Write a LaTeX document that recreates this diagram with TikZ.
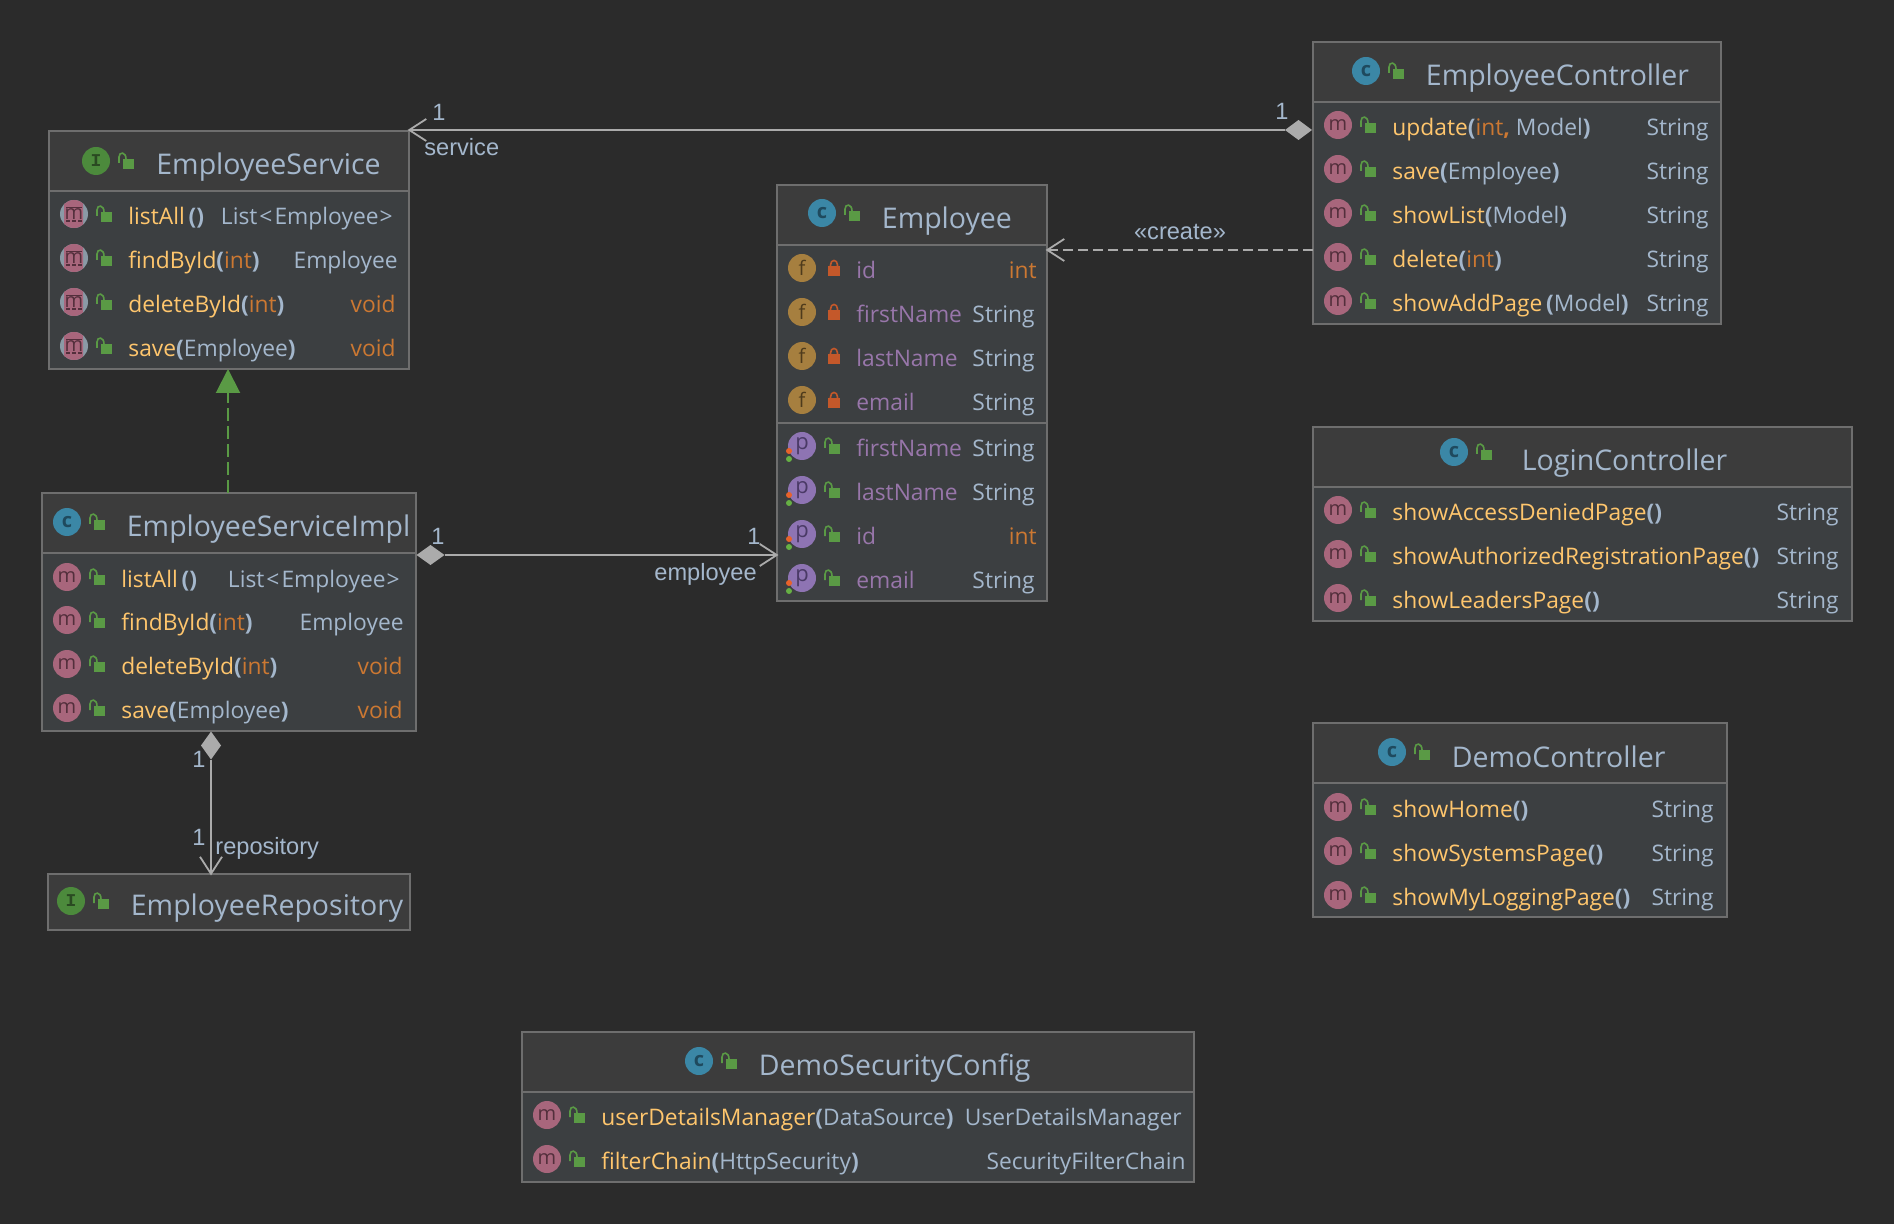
\documentclass[tikz,border=0pt]{standalone}
\usepackage{fontspec}
\setmainfont{Open Sans}
\newfontfamily\lblfont{Liberation Sans}
\newfontfamily\monoI{Liberation Mono}
\usetikzlibrary{shapes.geometric,arrows.meta}
\definecolor{bg}{HTML}{2B2B2B}
\definecolor{hdr}{HTML}{3C3C3C}
\definecolor{body}{HTML}{3C3F41}
\definecolor{edge}{HTML}{6E6E6E}
\definecolor{wire}{HTML}{ABABAB}
\definecolor{ttl}{HTML}{A4B7CC}
\definecolor{meth}{HTML}{FFC66D}
\definecolor{kwd}{HTML}{CC7832}
\definecolor{fld}{HTML}{9876AA}
\definecolor{icm}{HTML}{A8667C}
\definecolor{icmd}{HTML}{532F3C}
\definecolor{icc}{HTML}{3B87A6}
\definecolor{iccd}{HTML}{1F4A5E}
\definecolor{ici}{HTML}{4C8A3C}
\definecolor{icid}{HTML}{2A4A22}
\definecolor{icf}{HTML}{A67F3F}
\definecolor{icfd}{HTML}{4E3B1C}
\definecolor{icp}{HTML}{8E74B3}
\definecolor{icpd}{HTML}{4A3A66}
\definecolor{lkg}{HTML}{5A9A45}
\definecolor{lkr}{HTML}{C4582A}
\definecolor{dotr}{HTML}{E8622A}
\definecolor{dotg}{HTML}{66B044}
\definecolor{grey}{HTML}{8A9AA6}
\newcount\nid
\tikzset{
  x=0.5pt,y=-0.5pt,
  boxnode/.style={rectangle,draw=edge,line width=0.9pt,inner sep=0pt,outer sep=0pt,fill=body},
  icon/.style={circle,minimum size=14pt,inner sep=0pt,outer sep=0pt},
  ttltext/.style={anchor=base west,inner sep=0pt,text=ttl,font=\fontsize{14.25}{14.25}\selectfont},
  memL/.style={anchor=base west,inner sep=0pt,font=\fontsize{11.4}{11.4}\selectfont},
  memR/.style={anchor=base east,inner sep=0pt,font=\fontsize{11.4}{11.4}\selectfont},
  lbl/.style={anchor=base west,inner sep=0pt,text=ttl,font=\lblfont\fontsize{11.8}{11.8}\selectfont},
  lblc/.style={anchor=base,inner sep=0pt,text=ttl,font=\lblfont\fontsize{11.8}{11.8}\selectfont},
  assoc/.style={draw=wire,line width=1.2pt,shorten >=-0.7pt,-{Straight Barb[length=8.5pt,width=11pt,line width=0.9pt]}},
  dep/.style={draw=wire,line width=1pt,shorten >=-0.7pt,dash pattern=on 5pt off 2.5pt,-{Straight Barb[length=8.5pt,width=11pt,line width=0.9pt]}},
  impl/.style={draw=lkg,line width=1pt,dash pattern=on 6.5pt off 2.5pt,-{Triangle[length=12pt,width=12pt,fill=lkg]}},
  dmd/.style={diamond,fill=wire,inner sep=0pt,outer sep=0pt},
}
\newcommand\N[4][]{\global\advance\nid by 1 \node[#1] (n\the\nid) at (#2,#3) {#4};}
% box: name x0 y0 x1 y1 ydiv
\newcommand\umlbox[6]{%
  \node[boxnode,minimum width={(#4-#2)*0.5pt},minimum height={(#5-#3)*0.5pt}] (#1) at ({(#2+#4)/2},{(#3+#5)/2}) {};
  \fill[hdr] (#1.north west) rectangle (#4,#6);
  \draw[edge,line width=0.9pt] (#2,#6) -- (#4,#6);
  \draw[edge,line width=0.9pt] (#1.south west) rectangle (#1.north east);
}
\newcommand\ulock[2]{%
  \fill[lkg] (#1+26.5,#2-2) rectangle (#1+38,#2+8);
  \draw[lkg,line width=0.8pt] (#1+23,#2+2) -- (#1+23,#2-4) .. controls (#1+23,#2-9.5) and (#1+30,#2-9.5) .. (#1+30,#2-2);
}
\newcommand\clock[2]{%
  \fill[lkr] (#1+26,#2-2) rectangle (#1+38,#2+8);
  \draw[lkr,line width=0.8pt] (#1+28.5,#2-1) -- (#1+28.5,#2-3) .. controls (#1+28.5,#2-9) and (#1+35.5,#2-9) .. (#1+35.5,#2-3) -- (#1+35.5,#2-1);
}
\newcommand\micon[2]{\N[icon,fill=icm,text=icmd,font=\fontsize{10}{10}\selectfont]{#1}{#2}{m}}
\newcommand\aicon[2]{%
  \fill[grey] (#1,#2) circle[radius=14];
  \begin{scope}
    \clip (#1-10,#2-15) rectangle (#1+9,#2+15);
    \fill[icm] (#1,#2) circle[radius=14];
  \end{scope}
  \N[icon,text=icmd,font=\fontsize{10}{10}\selectfont]{#1}{#2}{m}
  \draw[icmd,line width=0.7pt] (#1-8,#2-6.5) -- (#1+8,#2-6.5);
  \draw[icmd,line width=0.7pt] (#1-8,#2+7) -- (#1-4,#2+7) (#1-2,#2+7) -- (#1+2,#2+7) (#1+4,#2+7) -- (#1+8,#2+7);
}
\newcommand\cicon[2]{\N[icon,fill=icc,text=iccd,font=\bfseries\fontsize{10}{10}\selectfont]{#1}{#2}{c}\ulock{#1}{#2}}
\newcommand\iicon[2]{\N[icon,fill=ici,text=icid,font=\monoI\bfseries\fontsize{9}{9}\selectfont]{#1}{#2}{I}\ulock{#1}{#2}}
\newcommand\Title[3]{\N[ttltext]{#1}{#2+1.5}{#3}}
\newcommand\cm{\color{meth}}
\newcommand\ct{\color{ttl}}
\newcommand\ck{\color{kwd}}
\newcommand\po{\textbf{\ct(}}
\newcommand\pc{\textbf{\ct)}}
\newcommand\unit{\textbf{\ct()}}
\newcommand\listemp{\ct List\kern1pt<\kern1pt Employee\kern0.5pt>}
% Mrow iconx y textx rightx method type
\newcommand\Mrow[6]{\micon{#1}{#2}\ulock{#1}{#2}\N[memL]{#3-1}{#2+10.5}{#5}\N[memR]{#4+1}{#2+10.5}{#6}}
\newcommand\Arow[6]{\aicon{#1}{#2}\ulock{#1}{#2}\N[memL]{#3-1}{#2+10.5}{#5}\N[memR]{#4+1}{#2+10.5}{#6}}
\newcommand\Frow[4]{\N[icon,fill=icf,text=icfd,font=\fontsize{10}{10}\selectfont]{802}{#1}{f}\clock{802}{#1}\N[memL,text=fld]{856}{#1+10.5}{#2}\N[memR]{#3+1}{#1+10.5}{#4}}
\newcommand\Prow[4]{\N[icon,fill=icp,text=icpd,font=\fontsize{11}{11}\selectfont]{802}{#1}{p}\fill[dotr] (789,#1+5) circle[radius=3];\fill[dotg] (789,#1+13) circle[radius=3];\ulock{802}{#1}\N[memL,text=fld]{856}{#1+10.5}{#2}\N[memR]{#3+1}{#1+10.5}{#4}}
\begin{document}
\begin{tikzpicture}
\useasboundingbox (0,0) rectangle (1894,1224);
\fill[bg] (0,0) rectangle (1894,1224);
% EmployeeService
\umlbox{svc}{49}{131}{409}{369}{191}
\iicon{96}{161}\Title{156}{173}{EmployeeService}
\Arow{74}{214}{129}{392}{\cm listAll\,\unit}{\listemp}
\Arow{74}{258}{129}{397}{\cm findById\po\ck int\pc}{\ct Employee}
\Arow{74}{302}{129}{395}{\cm deleteById\po\ck int\pc}{\ck void}
\Arow{74}{346}{129}{395}{\cm save\po\ct Employee\pc}{\ck void}
% EmployeeServiceImpl
\umlbox{sim}{42}{493}{416}{731}{553}
\cicon{67}{522}\Title{126.5}{535}{EmployeeServiceImpl}
\Mrow{67}{577}{122}{399}{\cm listAll\,\unit}{\listemp}
\Mrow{67}{620}{122}{403}{\cm findById\po\ck int\pc}{\ct Employee}
\Mrow{67}{664}{122}{402}{\cm deleteById\po\ck int\pc}{\ck void}
\Mrow{67}{708}{122}{402}{\cm save\po\ct Employee\pc}{\ck void}
% EmployeeRepository
\node[boxnode,fill=hdr,minimum width={362*0.5pt},minimum height={56*0.5pt}] (rep) at (229,902) {};
\iicon{71}{901}\Title{130.5}{914}{EmployeeRepository}
% Employee
\umlbox{emp}{777}{185}{1047}{601}{245}
\draw[edge,line width=0.9pt] (777,423) -- (1047,423);
\cicon{822}{213}\Title{881.5}{227}{Employee}
\Frow{268}{id}{1036}{\ck int}
\Frow{312}{firstName}{1034}{\ct String}
\Frow{356}{lastName}{1034}{\ct String}
\Frow{400}{email}{1034}{\ct String}
\Prow{446}{firstName}{1034}{\ct String}
\Prow{490}{lastName}{1034}{\ct String}
\Prow{534}{id}{1036}{\ck int}
\Prow{578}{email}{1034}{\ct String}
% EmployeeController
\umlbox{ctl}{1313}{42}{1721}{324}{102}
\cicon{1366}{71}\Title{1425.5}{84}{EmployeeController}
\Mrow{1338}{125}{1393}{1708}{\cm update\po\ck int\textbf{,} \ct Model\pc}{\ct String}
\Mrow{1338}{169}{1393}{1708}{\cm save\po\ct Employee\pc}{\ct String}
\Mrow{1338}{213}{1393}{1708}{\cm showList\po\ct Model\pc}{\ct String}
\Mrow{1338}{257}{1393}{1708}{\cm delete\po\ck int\pc}{\ct String}
\Mrow{1338}{301}{1393}{1708}{\cm showAddPage\,\po\ct Model\pc}{\ct String}
% LoginController
\umlbox{log}{1313}{427}{1852}{621}{487}
\cicon{1454}{452}\Title{1521.5}{469}{LoginController}
\Mrow{1338}{510}{1393}{1838}{\cm showAccessDeniedPage\unit}{\ct String}
\Mrow{1338}{554}{1393}{1838}{\cm showAuthorizedRegistrationPage\unit}{\ct String}
\Mrow{1338}{598}{1393}{1838}{\cm showLeadersPage\unit}{\ct String}
% DemoController
\umlbox{dem}{1313}{723}{1727}{917}{783}
\cicon{1392}{752}\Title{1451.5}{766}{DemoController}
\Mrow{1338}{807}{1393}{1713}{\cm showHome\unit}{\ct String}
\Mrow{1338}{851}{1393}{1713}{\cm showSystemsPage\unit}{\ct String}
\Mrow{1338}{895}{1393}{1713}{\cm showMyLoggingPage\unit}{\ct String}
% DemoSecurityConfig
\umlbox{sec}{522}{1032}{1194}{1182}{1092}
\cicon{699}{1061}\Title{758.5}{1074}{DemoSecurityConfig}
\Mrow{547}{1115}{602}{1181}{\cm userDetailsManager\po\ct DataSource\pc}{\ct UserDetailsManager}
\Mrow{547}{1159}{602}{1185}{\cm filterChain\po\ct HttpSecurity\pc}{\ct SecurityFilterChain}
% connectors
\node[dmd,minimum width=13.5pt,minimum height=10pt] (dctl) at (1298.5,130) {};
\draw[assoc] (dctl) -- (dctl -| svc.east);
\N[lblc]{439}{121}{1}
\N[lbl]{424}{156}{service}
\N[lblc]{1282}{120}{1}
\coordinate (cstart) at (1313,250);
\draw[dep] (cstart) -- (cstart -| emp.east);
\N[lblc]{1180}{240}{«create»}
\node[dmd,minimum width=14pt,minimum height=10pt] (dsim) at (430.5,555) {};
\draw[assoc] (dsim) -- (dsim -| emp.west);
\N[lblc]{438}{545}{1}
\N[lblc]{754}{545}{1}
\N[lbl]{654}{580}{employee}
\node[dmd,minimum width=10pt,minimum height=14pt] (drep) at (211,745.5) {};
\draw[assoc] (drep) -- (drep |- rep.north);
\N[lblc]{199}{767}{1}
\N[lblc]{199}{845}{1}
\N[lbl]{215}{854}{repository}
\coordinate (gstart) at (228,493);
\draw[impl] (gstart) -- (gstart |- svc.south);
\end{tikzpicture}
\end{document}
